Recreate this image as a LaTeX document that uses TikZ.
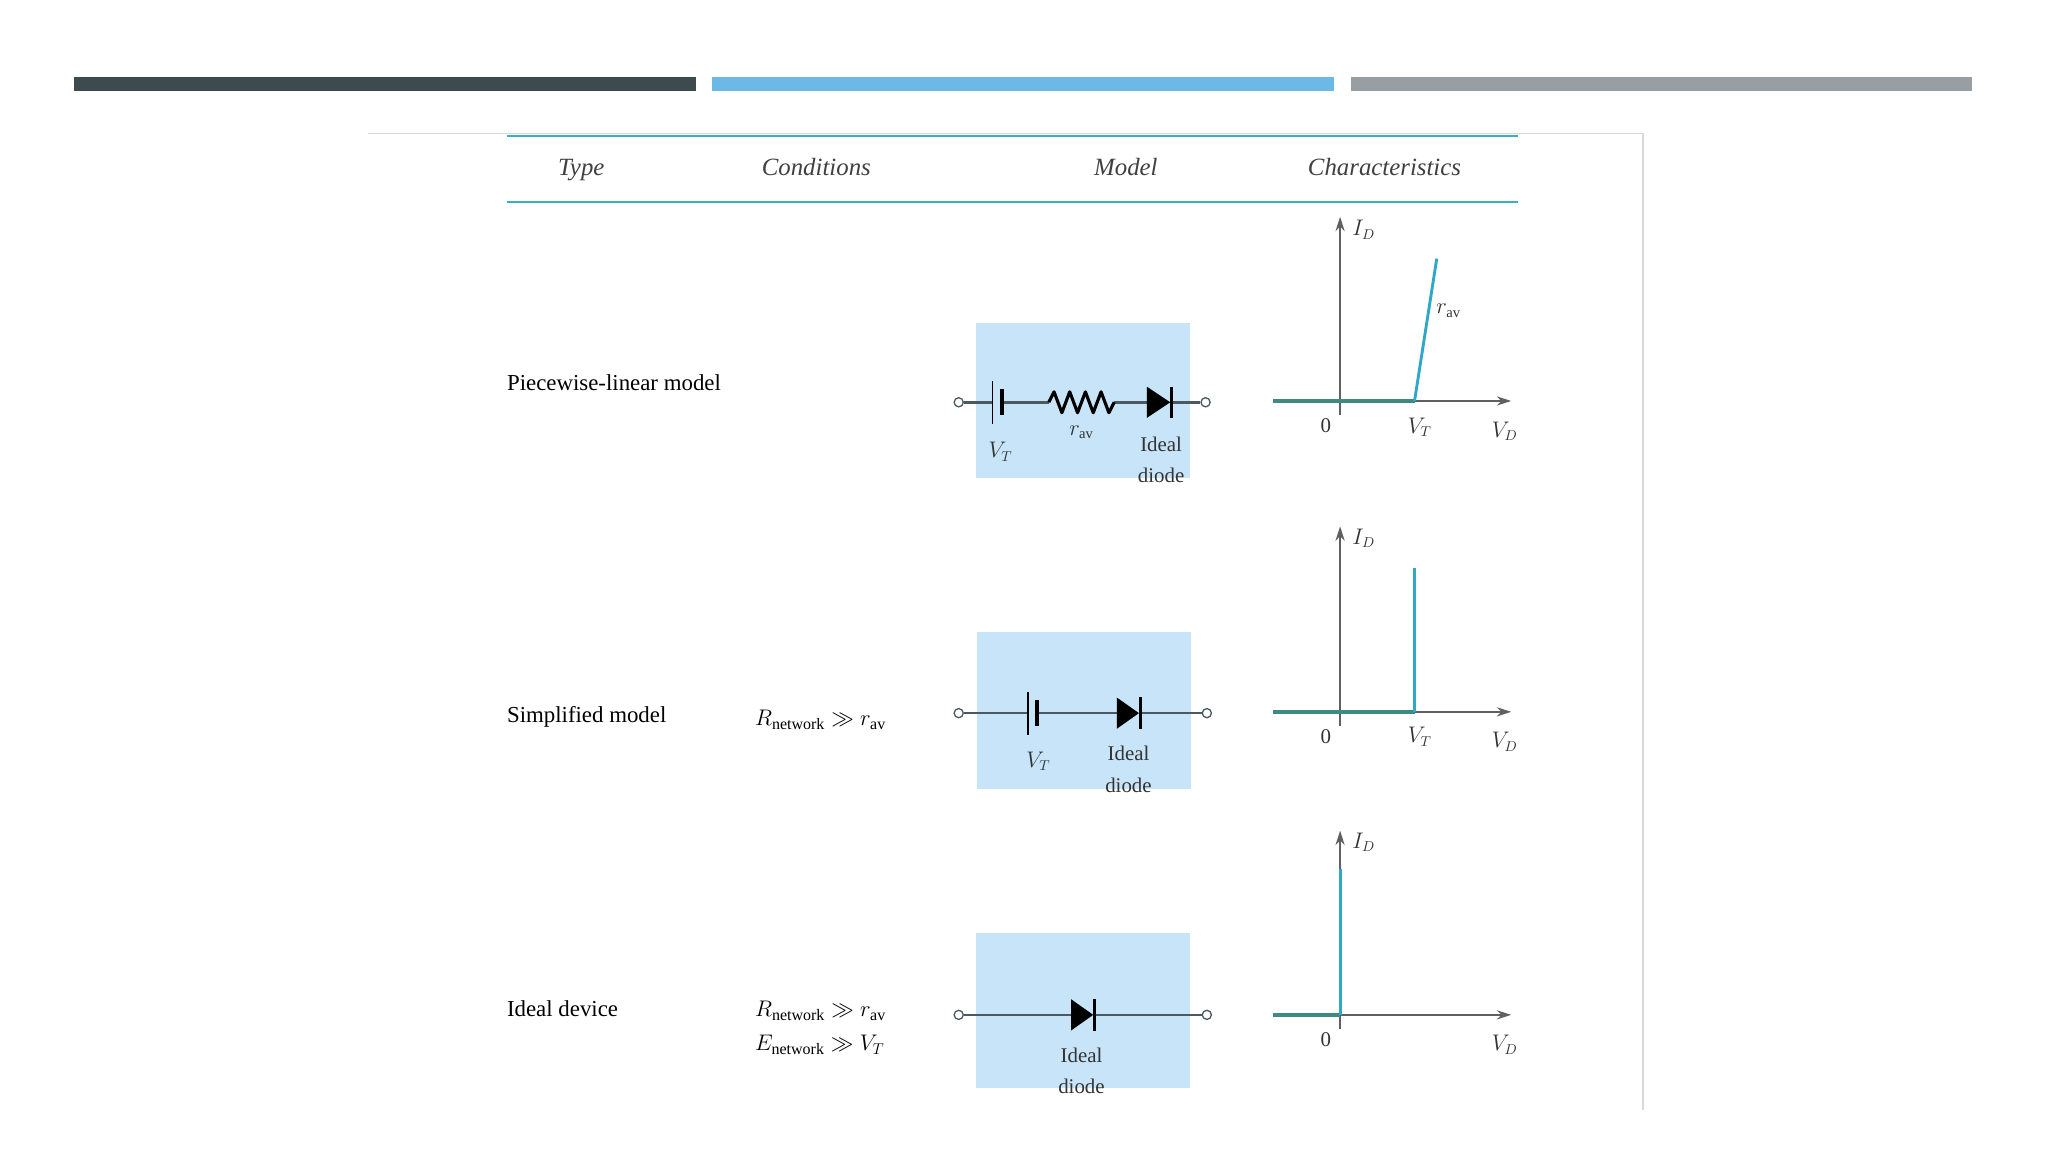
\documentclass[tikz,border=0pt]{standalone}
\usepackage{fontspec}
\setmainfont{Liberation Serif}
\usetikzlibrary{arrows.meta}
\definecolor{barA}{HTML}{3D4B4F}
\definecolor{barB}{HTML}{6CB8E6}
\definecolor{barC}{HTML}{999EA2}
\definecolor{teal}{HTML}{3AAFC2}
\definecolor{boxc}{HTML}{C8E4F8}
\definecolor{wire}{HTML}{4A5A60}
\definecolor{ax}{HTML}{606060}
\definecolor{chr}{HTML}{2FA8C8}
\definecolor{flat}{HTML}{3E8A80}
\tikzset{
  lbl/.style={font=\fontsize{17.5}{20}\selectfont, inner sep=0pt},
  hdr/.style={font=\fontsize{19}{21}\selectfont\itshape, text=black!75, inner sep=0pt, text height=13pt, text depth=4pt},
  sm/.style={font=\fontsize{16}{17}\selectfont, inner sep=0pt, text=black!80},
  wirel/.style={draw=wire, line width=2pt},
  term/.style={circle, draw=wire, fill=white, line width=1pt, minimum size=7pt, inner sep=0pt},
  axis/.style={draw=ax, line width=1.4pt, -{Stealth[length=11pt,width=7pt]}},
  flatl/.style={draw=flat, line width=3pt},
  chl/.style={draw=chr, line width=2.2pt},
}
\begin{document}
\begin{tikzpicture}[x=1pt,y=-1pt]
\useasboundingbox (0,0) rectangle (1568,882);
\fill[white] (0,0) rectangle (1568,882);
% top bars
\fill[barA] (57,59) rectangle (533,70);
\fill[barB] (545,59) rectangle (1021,70);
\fill[barC] (1034,59) rectangle (1510,70);
% frame
\draw[black!15, line width=1pt] (282,102) -- (1258,102) -- (1258,850);
% header
\draw[teal, line width=1.6pt] (388,104) -- (1162,104);
\draw[teal, line width=1.6pt] (388,155) -- (1162,155);
\node[hdr] (hType) at (445,130) {Type};
\node[hdr] (hCond) at (625,130) {Conditions};
\node[hdr] (hModel) at (862,130) {Model};
\node[hdr] (hChar) at (1060,130) {Characteristics};
% row labels
\node[lbl, anchor=west] (t1) at (388,293) {Piecewise-linear model};
\node[lbl, anchor=west] (t2) at (388,549) {Simplified model};
\node[lbl, anchor=west] (t3) at (388,772) {Ideal device};
\node[lbl, anchor=west] (c2) at (578,551) {$R_{\mathrm{network}} \gg r_{\mathrm{av}}$};
\node[lbl, anchor=west] (c3a) at (578,774) {$R_{\mathrm{network}} \gg r_{\mathrm{av}}$};
\node[lbl, anchor=west] (c3b) at (578,800) {$E_{\mathrm{network}} \gg V_T$};

% ===== Row 1 model
\fill[boxc] (747,247) rectangle (911,366);
\node[term] (a1) at (734,308) {};
\node[term] (b1) at (923,308) {};
\draw[wirel] (a1) -- (760,308);
\draw[wirel] (767,308) -- (803,308);
\draw[wirel] (853,308) -- (878,308);
\draw[wirel] (898,308) -- (b1);
\draw[black, line width=1.2pt] (760,292) -- (760,325);
\draw[black, line width=3pt] (767,298) -- (767,318);
\draw[black, line width=2.4pt, line join=round] (803,308) -- (807,300) -- (813,316) -- (819,300) -- (825,316) -- (831,300) -- (837,316) -- (843,300) -- (849,316) -- (853,308);
\fill[black] (878,296) -- (896,308) -- (878,320) -- cycle;
\draw[black, line width=2.5pt] (897,296) -- (897,320);
\node[sm] (vt1) at (766,346) {$V_T$};
\node[sm] (ra1) at (828,331) {$r_{\mathrm{av}}$};
\node[sm, align=center, font=\fontsize{16}{24}\selectfont] (id1) at (889,352) {Ideal\\diode};
% Row 1 graph
\draw[axis] (1026,318) -- (1026,166);
\draw[axis] (975,307) -- (1157,307);
\draw[flatl] (975,307) -- (1083,307);
\draw[chl] (1083,307) -- (1100,198);
\node[sm] (iD1) at (1044,176) {$I_D$};
\node[sm] (r1) at (1109,238) {$r_{\mathrm{av}}$};
\node[sm] (z1) at (1015,326) {0};
\node[sm] (v1) at (1087,327) {$V_T$};
\node[sm] (d1) at (1152,330) {$V_D$};

% ===== Row 2 model
\fill[boxc] (748,484) rectangle (912,604);
\node[term] (a2) at (734,546) {};
\node[term] (b2) at (924,546) {};
\draw[wirel] (a2) -- (787,546);
\draw[wirel] (794,546) -- (855,546);
\draw[wirel] (873,546) -- (b2);
\draw[black, line width=1.2pt] (787,530) -- (787,563);
\draw[black, line width=3pt] (794,536) -- (794,556);
\fill[black] (855,534) -- (872,546) -- (855,558) -- cycle;
\draw[black, line width=2.5pt] (873,534) -- (873,558);
\node[sm] (vt2) at (795,583) {$V_T$};
\node[sm, align=center, font=\fontsize{16}{24}\selectfont] (id2) at (864,589) {Ideal\\diode};
% Row 2 graph
\draw[axis] (1026,556) -- (1026,403);
\draw[axis] (975,545) -- (1157,545);
\draw[flatl] (975,545) -- (1083,545);
\draw[chl] (1083,545) -- (1083,435);
\node[sm] (iD2) at (1044,412) {$I_D$};
\node[sm] (z2) at (1015,564) {0};
\node[sm] (v2) at (1087,564) {$V_T$};
\node[sm] (d2) at (1152,568) {$V_D$};

% ===== Row 3 model
\fill[boxc] (747,714) rectangle (911,833);
\node[term] (a3) at (734,777) {};
\node[term] (b3) at (924,777) {};
\draw[wirel] (a3) -- (820,777);
\draw[wirel] (838,777) -- (b3);
\fill[black] (820,765) -- (837,777) -- (820,789) -- cycle;
\draw[black, line width=2.5pt] (838,765) -- (838,789);
\node[sm, align=center, font=\fontsize{16}{24}\selectfont] (id3) at (828,820) {Ideal\\diode};
% Row 3 graph
\draw[axis] (1026,788) -- (1026,636);
\draw[axis] (975,777) -- (1157,777);
\draw[flatl] (975,777) -- (1026,777);
\draw[chl] (1026,777) -- (1026,665);
\node[sm] (iD3) at (1044,645) {$I_D$};
\node[sm] (z3) at (1015,796) {0};
\node[sm] (d3) at (1152,800) {$V_D$};
\end{tikzpicture}
\end{document}
